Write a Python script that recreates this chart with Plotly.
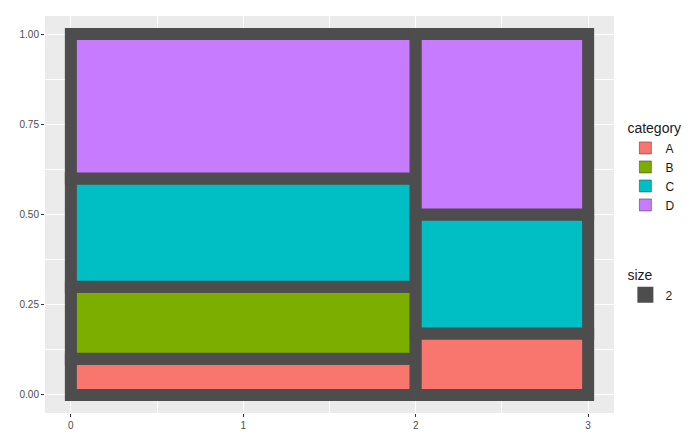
import plotly.graph_objects as go

categories = ["A", "B", "C", "D"]
colors = ["#F8766D", "#7CAE00", "#00BFC4", "#C77CFF"]
# left column (x 0-2) and right column (x 2-3) proportions
left_vals = [0.10, 0.20, 0.30, 0.40]
right_cats = ["A", "C", "D"]
right_vals = [0.17, 0.33, 0.50]
col_x = [1.0, 2.5]
col_w = [2.0, 1.0]

fig = go.Figure()
border = dict(color="#4D4D4D", width=12)

def add_col(cats, vals, xc, w):
    base = 0
    for c, v in zip(cats, vals):
        fig.add_trace(go.Bar(x=[xc], y=[v], base=[base], width=[w],
                             marker=dict(color=colors[categories.index(c)], line=border),
                             name=c, legendgroup=c, showlegend=False, hoverinfo="skip"))
        base += v

add_col(categories, left_vals, col_x[0], col_w[0])
add_col(right_cats, right_vals, col_x[1], col_w[1])

for c, col in zip(categories, colors):
    fig.add_trace(go.Bar(x=[None], y=[None], name=c, marker=dict(color=col, line=dict(color="#333", width=0.5)),
                         legend="legend", showlegend=True))
fig.add_trace(go.Scatter(x=[None], y=[None], mode="markers", name="2",
                         marker=dict(symbol="square", size=16, color="#4D4D4D"),
                         legend="legend2", showlegend=True))

fig.update_layout(
    width=700, height=432, barmode="overlay",
    plot_bgcolor="#EBEBEB", paper_bgcolor="white",
    margin=dict(l=37, r=94, t=8, b=27),
    font=dict(family="Liberation Sans, Arial", size=12, color="#1a1a1a"),
    legend=dict(title=dict(text="category", font=dict(size=14)), x=1.02, y=0.75, yanchor="top",
                tracegroupgap=0, font=dict(size=12)),
    legend2=dict(title=dict(text="size", font=dict(size=14)), x=1.02, y=0.38, yanchor="top", font=dict(size=12)),
    xaxis=dict(range=[-0.15, 3.15], tickvals=[0, 1, 2, 3], gridcolor="white", gridwidth=1.2, automargin=False,
               minor=dict(tickvals=[0.5, 1.5, 2.5], gridcolor="white", gridwidth=0.6),
               zeroline=False, ticks="outside", ticklen=3, tickcolor="#333", tickfont=dict(color="#4D4D4D", size=10)),
    yaxis=dict(range=[-0.05, 1.05], tickvals=[0, 0.25, 0.5, 0.75, 1.0], ticktext=["0.00", "0.25", "0.50", "0.75", "1.00"],
               gridcolor="white", gridwidth=1.2, automargin=False,
               minor=dict(tickvals=[0.125, 0.375, 0.625, 0.875], gridcolor="white", gridwidth=0.6),
               zeroline=False, ticks="outside", ticklen=3, tickcolor="#333", tickfont=dict(color="#4D4D4D", size=10)),
)
fig.write_html("out.html")
